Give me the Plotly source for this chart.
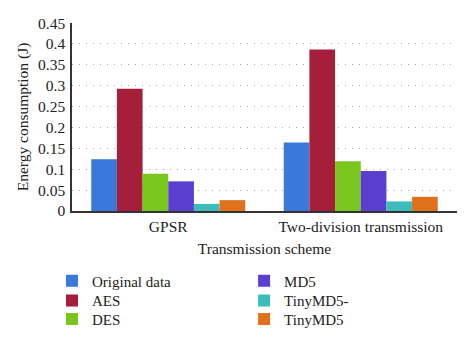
import plotly.graph_objects as go

categories = ["GPSR", "Two-division transmission"]
series_names = ["Original data", "AES", "DES", "MD5", "TinyMD5-", "TinyMD5"]
series_values = [
    [0.124, 0.164],
    [0.293, 0.387],
    [0.089, 0.119],
    [0.071, 0.096],
    [0.017, 0.023],
    [0.026, 0.034],
]
colors = ["#3a78dc", "#a51f3a", "#78c61e", "#5a3ed0", "#3dbcbc", "#e0721e"]
tick_vals = [0, 0.05, 0.1, 0.15, 0.2, 0.25, 0.3, 0.35, 0.4, 0.45]
tick_text = ["0", "0.05", "0.1", "0.15", "0.2", "0.25", "0.3", "0.35", "0.4", "0.45"]

FONT = "Liberation Serif"
TXT = "#222"

# legend slots: two columns of three rows
leg_x = [-0.052, 0.447]
leg_y = [-0.372, -0.477, -0.576]

fig = go.Figure()
layout_legends = {}
for i, (name, vals, col) in enumerate(zip(series_names, series_values, colors)):
    lid = "legend" if i == 0 else f"legend{i + 1}"
    fig.add_trace(go.Bar(
        x=categories, y=vals, name=name,
        marker=dict(color=col, line=dict(width=0)),
        legend=lid,
    ))
    layout_legends[lid] = dict(
        x=leg_x[i // 3], xanchor="left", y=leg_y[i % 3], yanchor="middle",
        font=dict(family=FONT, size=15, color=TXT), itemwidth=30,
        bgcolor="rgba(0,0,0,0)",
    )

fig.update_layout(
    width=474, height=345,
    margin=dict(l=72, r=17, t=23, b=134, autoexpand=False),
    plot_bgcolor="white", paper_bgcolor="white",
    barmode="group", bargap=0.2, bargroupgap=0,
    font=dict(family=FONT, size=15.5, color=TXT),
    showlegend=True,
    **layout_legends,
)
fig.update_xaxes(
    showline=True, linecolor="#333", linewidth=1.5, ticks="",
    automargin=False, ticklabelstandoff=1,
    title=dict(text="Transmission scheme", standoff=9,
               font=dict(family=FONT, size=15.5, color=TXT)),
    tickfont=dict(family=FONT, size=15.5, color=TXT), showgrid=False,
)
fig.update_yaxes(
    range=[0, 0.4502], tickvals=tick_vals, ticktext=tick_text,
    showline=True, linecolor="#333", linewidth=1.5, ticks="",
    automargin=False,
    showgrid=True, gridcolor="#a8a8a8", griddash="1px,6px", gridwidth=1.2,
    zeroline=False, ticklabelstandoff=2,
    title=dict(text="Energy consumption (J)", standoff=6,
               font=dict(family=FONT, size=15.5, color=TXT)),
    tickfont=dict(family=FONT, size=15.5, color=TXT),
)

fig.write_html("out.html")
